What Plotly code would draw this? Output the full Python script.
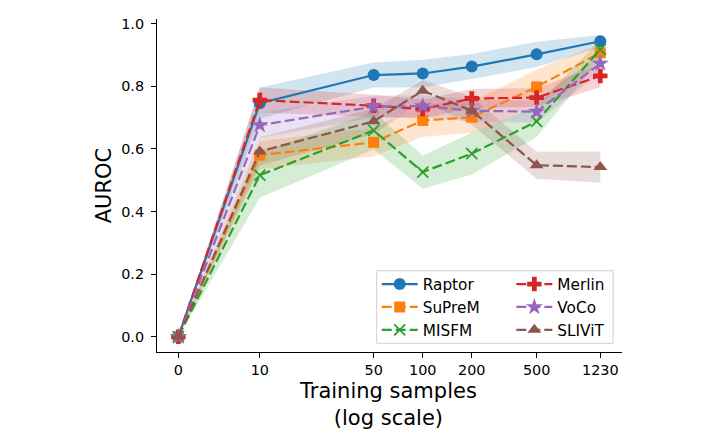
import numpy as np
import plotly.graph_objects as go

# training set sizes and mean AUROC per model
samples = [0, 10, 50, 100, 200, 500, 1230]
tick_labels = ['0', '10', '50', '100', '200', '500', '1230']

raptor = [0.0, 0.746, 0.836, 0.841, 0.863, 0.902, 0.944]
suprem = [0.0, 0.580, 0.621, 0.691, 0.701, 0.798, 0.907]
misfm = [0.0, 0.516, 0.659, 0.526, 0.585, 0.688, 0.918]
merlin = [0.0, 0.756, 0.738, 0.727, 0.761, 0.764, 0.833]
voco = [0.0, 0.676, 0.735, 0.737, 0.722, 0.719, 0.873]
slivit = [0.0, 0.592, 0.688, 0.786, 0.722, 0.548, 0.542]

# half width of the shaded band
raptor_err = [0.0, 0.05, 0.04, 0.044, 0.04, 0.04, 0.02]
suprem_err = [0.0, 0.045, 0.045, 0.052, 0.05, 0.056, 0.03]
misfm_err = [0.0, 0.072, 0.06, 0.053, 0.067, 0.05, 0.03]
merlin_err = [0.0, 0.04, 0.035, 0.03, 0.03, 0.03, 0.036]
voco_err = [0.0, 0.04, 0.035, 0.035, 0.035, 0.035, 0.03]
slivit_err = [0.0, 0.045, 0.04, 0.033, 0.045, 0.043, 0.05]

models = [
    ('Raptor', raptor, raptor_err, '#1f77b4', 'circle', 12, 'solid', 1),
    ('SuPreM', suprem, suprem_err, '#ff7f0e', 'square', 11, 'dash', 1),
    ('MISFM', misfm, misfm_err, '#2ca02c', 'x-thin', 11, 'dash', 1),
    ('Merlin', merlin, merlin_err, '#d62728', 'cross', 12, 'dash', 2),
    ('VoCo', voco, voco_err, '#9467bd', 'star', 13, 'dash', 2),
    ('SLIViT', slivit, slivit_err, '#8c564b', 'triangle-up', 12, 'dash', 2),
]


def xpos(n):
    # log axis above 10, squeezed linear piece between 0 and 10
    return np.log10(n) if n >= 10 else 0.5 + 0.05 * n


def rgba(hexcol, a):
    h = hexcol.lstrip('#')
    return 'rgba(%d,%d,%d,%s)' % (int(h[0:2], 16), int(h[2:4], 16), int(h[4:6], 16), a)


xs = [xpos(n) for n in samples]
FONT = 'DejaVu Sans'

fig = go.Figure()

for name, vals, err, col, sym, size, dash, leg in models:
    hi = [v + e for v, e in zip(vals, err)]
    lo = [v - e for v, e in zip(vals, err)]
    fig.add_trace(go.Scatter(
        x=xs + xs[::-1], y=hi + lo[::-1],
        fill='toself', fillcolor=rgba(col, 0.2),
        line=dict(width=0), mode='lines',
        showlegend=False, hoverinfo='skip'
    ))

for name, vals, err, col, sym, size, dash, leg in models:
    thin = sym == 'x-thin'
    fig.add_trace(go.Scatter(
        x=xs, y=vals, name=name, mode='lines+markers',
        line=dict(color=col, width=2.2, dash='solid' if dash == 'solid' else '10px,4px'),
        marker=dict(symbol=sym, size=size, color=col,
                    line=dict(color=col, width=1.8 if thin else 0)),
        legend='legend' if leg == 1 else 'legend2'
    ))

fig.add_shape(
    type='rect', xref='paper', yref='paper',
    x0=0.4725, x1=0.981, y0=0.026, y1=0.244,
    fillcolor='rgba(255,255,255,0.8)', line=dict(color='#d0d0d0', width=1),
    layer='above'
)

axis_common = dict(
    showgrid=False, zeroline=False, showline=True, linecolor='black', linewidth=1.1,
    ticks='outside', ticklen=5, tickwidth=1.1, tickcolor='black',
    tickfont=dict(family=FONT, size=14.4, color='black'), mirror=False
)

legend_common = dict(
    font=dict(family=FONT, size=15.3, color='black'),
    bgcolor='rgba(0,0,0,0)', borderwidth=0,
    xanchor='left', yanchor='top', y=0.2534, itemwidth=36,
    tracegroupgap=0
)

# page body adds 8px offset, so margins are shifted to keep the axes where they belong
fig.update_layout(
    width=718, height=444,
    margin=dict(l=149, r=104, t=8, b=100),
    plot_bgcolor='white', paper_bgcolor='white',
    xaxis=dict(range=[0.369, 3.223], tickvals=xs, ticktext=tick_labels, **axis_common),
    yaxis=dict(range=[-0.0488, 1.015], tickvals=[0, 0.2, 0.4, 0.6, 0.8, 1.0],
               ticktext=['0.0', '0.2', '0.4', '0.6', '0.8', '1.0'],
               ticklabelstandoff=4, **axis_common),
    legend=dict(x=0.4725, **legend_common),
    legend2=dict(x=0.762, **legend_common),
    annotations=[
        dict(text='AUROC', xref='paper', yref='paper', x=-0.1144, y=0.5, textangle=-90,
             showarrow=False, xanchor='center', yanchor='middle',
             font=dict(family=FONT, size=21, color='black')),
        dict(text='Training samples<br>(log scale)', xref='paper', yref='paper',
             x=0.497, y=-0.158, showarrow=False, xanchor='center', yanchor='middle',
             font=dict(family=FONT, size=21, color='black')),
    ],
    showlegend=True
)

fig.write_html('out.html')
